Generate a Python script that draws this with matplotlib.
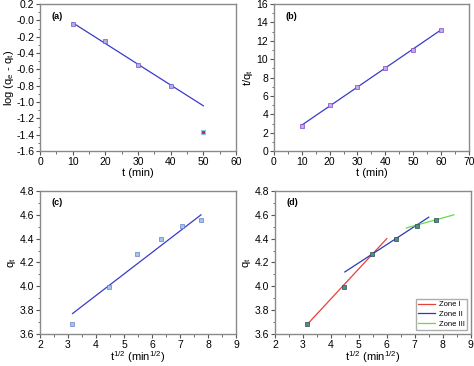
import matplotlib.pyplot as plt
from matplotlib.ticker import AutoMinorLocator
import numpy as np

# (a) pseudo-first-order
t_a = [10, 20, 30, 40, 50]
log_qe_qt = [-0.05, -0.25, -0.54, -0.80, -1.36]
# (b) pseudo-second-order
t_b = [10, 20, 30, 40, 50, 60]
t_over_qt = [2.75, 5.0, 7.0, 9.05, 11.05, 13.2]
# (c) / (d) intraparticle diffusion
sqrt_t = [3.16, 4.47, 5.48, 6.32, 7.07, 7.75]
qt = [3.68, 3.99, 4.27, 4.40, 4.51, 4.56]
c_fit_x = [3.16, 7.75]
c_fit_y = [3.77, 4.60]
zone1_x = [3.16, 6.0]
zone1_y = [3.68, 4.40]
zone2_x = [4.5, 7.5]
zone2_y = [4.12, 4.58]
zone3_x = [6.7, 8.4]
zone3_y = [4.49, 4.60]

plt.rcParams['font.family'] = ['Liberation Sans', 'DejaVu Sans']
plt.rcParams['font.size'] = 7.5
plt.rcParams['mathtext.fontset'] = 'custom'
plt.rcParams['mathtext.rm'] = 'Liberation Sans'
plt.rcParams['mathtext.it'] = 'Liberation Sans'

fig = plt.figure(figsize=(4.74, 3.66), dpi=100)
ax_a = fig.add_axes([0.0844, 0.587, 0.4135, 0.402])
ax_b = fig.add_axes([0.578, 0.587, 0.411, 0.402])
ax_c = fig.add_axes([0.0844, 0.088, 0.4135, 0.39])
ax_d = fig.add_axes([0.580, 0.088, 0.413, 0.39])

LAB = 8


def style(ax, label):
    for s in ax.spines.values():
        s.set_color('#8a8a8a')
        s.set_linewidth(1.0)
    ax.tick_params(which='both', direction='out', color='#555555', labelsize=7.5,
                   top=False, right=False)
    ax.tick_params(which='major', length=3, width=0.8, pad=1.2)
    ax.tick_params(which='minor', length=1.8, width=0.6)
    ax.xaxis.set_minor_locator(AutoMinorLocator(2))
    ax.yaxis.set_minor_locator(AutoMinorLocator(2))
    ax.text(0.06, 0.9, label, transform=ax.transAxes, fontsize=6.5, fontweight='bold')


# (a)
k = np.polyfit(t_a[:4], log_qe_qt[:4], 1)
xa = np.array([t_a[0], t_a[-1]])
ax_a.plot(xa, np.polyval(k, xa), color='#3a3acc', lw=0.9)
ax_a.plot(t_a[:4], log_qe_qt[:4], 's', ms=2.5, mfc='#b9a8e8', mec='#6a5acd', mew=0.5)
ax_a.plot(t_a[4:], log_qe_qt[4:], 's', ms=3.0, mfc='#e0107a', mec='#66dde8', mew=0.8)
ax_a.set_xlim(0, 60)
ax_a.set_ylim(-1.6, 0.2)
ax_a.set_xticks(range(0, 61, 10))
ax_a.set_yticks(np.arange(-1.6, 0.21, 0.2))
ax_a.set_yticklabels(['%.1f' % v for v in np.arange(-1.6, 0.21, 0.2)])
ax_a.set_xlabel('t (min)', fontsize=LAB, labelpad=0.5)
ax_a.set_ylabel(r'log (q$_e$ - q$_t$)', fontsize=LAB, labelpad=0)
style(ax_a, '(a)')

# (b)
k = np.polyfit(t_b, t_over_qt, 1)
xb = np.array([t_b[0], t_b[-1]])
ax_b.plot(xb, np.polyval(k, xb), color='#3a3acc', lw=0.9)
ax_b.plot(t_b, t_over_qt, 's', ms=2.5, mfc='#c9a8e8', mec='#7a4acd', mew=0.5)
ax_b.set_xlim(0, 70)
ax_b.set_ylim(0, 16)
ax_b.set_xticks(range(0, 71, 10))
ax_b.set_yticks(range(0, 17, 2))
ax_b.set_xlabel('t (min)', fontsize=LAB, labelpad=0.5)
ax_b.set_ylabel(r't/q$_t$', fontsize=LAB, labelpad=1)
style(ax_b, '(b)')

# (c)
ax_c.plot(c_fit_x, c_fit_y, color='#3a3acc', lw=0.9)
ax_c.plot(sqrt_t, qt, 's', ms=2.5, mfc='#9fc8e8', mec='#6a7acd', mew=0.5)
ax_c.set_xlim(2, 9)
ax_c.set_ylim(3.6, 4.8)
ax_c.set_xticks(range(2, 10))
ax_c.set_yticks(np.arange(3.6, 4.81, 0.2))
ax_c.set_yticklabels(['%.1f' % v for v in np.arange(3.6, 4.81, 0.2)])
ax_c.set_xlabel(r't$^{1/2}$ (min$^{1/2}$)', fontsize=LAB, labelpad=0)
ax_c.set_ylabel(r'q$_t$', fontsize=LAB, labelpad=1)
style(ax_c, '(c)')

# (d)
ax_d.plot(zone1_x, zone1_y, color='#e8403a', lw=0.9, label='Zone I')
ax_d.plot(zone2_x, zone2_y, color='#2a3ab8', lw=0.9, label='Zone II')
ax_d.plot(zone3_x, zone3_y, color='#66dd44', lw=0.9, label='Zone III')
ax_d.plot(sqrt_t, qt, 's', ms=2.5, mfc='#5a8a7a', mec='#2a4a5a', mew=0.5)
ax_d.set_xlim(2, 9)
ax_d.set_ylim(3.6, 4.8)
ax_d.set_xticks(range(2, 10))
ax_d.set_yticks(np.arange(3.6, 4.81, 0.2))
ax_d.set_yticklabels(['%.1f' % v for v in np.arange(3.6, 4.81, 0.2)])
ax_d.set_xlabel(r't$^{1/2}$ (min$^{1/2}$)', fontsize=LAB, labelpad=0)
ax_d.set_ylabel(r'q$_t$', fontsize=LAB, labelpad=1)
ax_d.legend(loc='lower right', fontsize=5.5, frameon=True, fancybox=False,
            edgecolor='#999999', handlelength=2.2, borderpad=0.3, labelspacing=0.3,
            handletextpad=0.5)
style(ax_d, '(d)')

fig.savefig('out.png', dpi=100)
